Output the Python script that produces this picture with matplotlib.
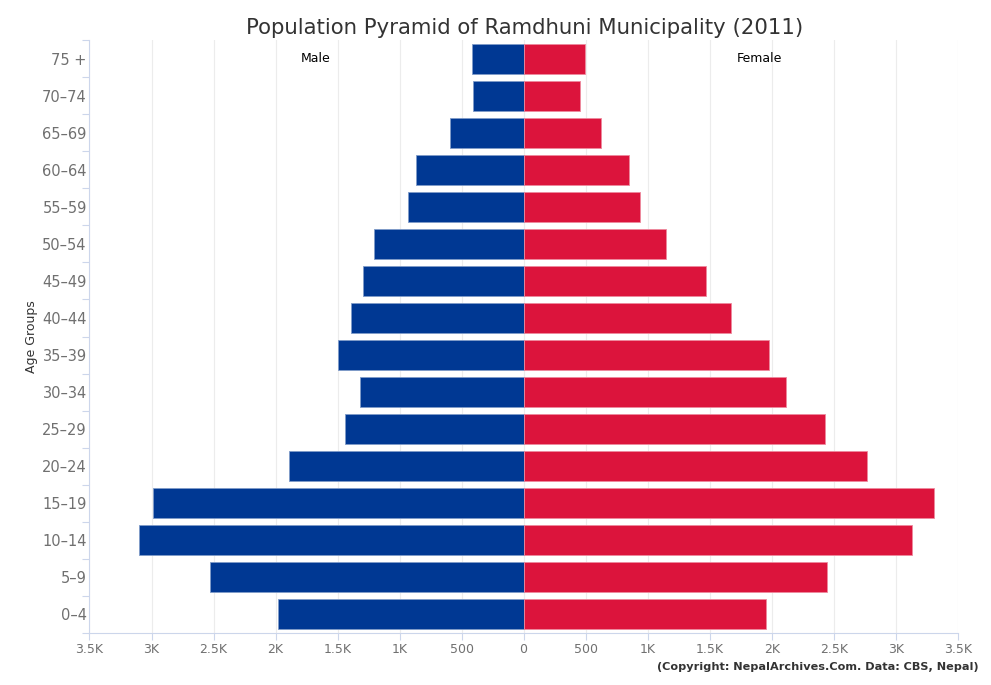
import matplotlib
matplotlib.use("Agg")
import matplotlib.pyplot as plt
import numpy as np

# --- data ---
age_groups = ["0–4", "5–9", "10–14", "15–19", "20–24", "25–29", "30–34", "35–39",
              "40–44", "45–49", "50–54", "55–59", "60–64", "65–69", "70–74", "75 +"]
male = [1978, 2528, 3097, 2985, 1892, 1441, 1323, 1497,
        1393, 1296, 1208, 928, 869, 596, 407, 419]
female = [1954, 2450, 3135, 3307, 2767, 2427, 2115, 1981,
          1670, 1469, 1147, 937, 849, 628, 453, 499]
x_ticks = [-3500, -3000, -2500, -2000, -1500, -1000, -500, 0,
           500, 1000, 1500, 2000, 2500, 3000, 3500]
x_tick_labels = ["3.5K", "3K", "2.5K", "2K", "1.5K", "1K", "500", "0",
                 "500", "1K", "1.5K", "2K", "2.5K", "3K", "3.5K"]

male_color = "#003893"
female_color = "#DC143C"

plt.rcParams['font.family'] = ['DejaVu Sans']

fig = plt.figure(figsize=(9.91, 6.85), dpi=100)
ax = fig.add_axes([0.0903, 0.0759, 0.8761, 0.8657])

y = np.arange(len(age_groups))
ax.barh(y, [-v for v in male], height=0.81, color=male_color,
        edgecolor="#7f9bc9", linewidth=0.6, zorder=3)
ax.barh(y, female, height=0.81, color=female_color,
        edgecolor="#ee8a9e", linewidth=0.6, zorder=3)

ax.set_xlim(-3500, 3500)
ax.set_ylim(-0.5, len(age_groups) - 0.5)

ax.set_xticks(x_ticks)
ax.set_xticklabels(x_tick_labels, color="#707070", fontsize=9)
ax.set_yticks(y)
ax.set_yticklabels(age_groups, color="#707070", fontsize=10.5)
ax.set_yticks(np.arange(-0.5, len(age_groups) - 0.4, 1), minor=True)

ax.tick_params(axis="y", which="major", length=0, pad=2)
ax.tick_params(axis="y", which="minor", length=5, color="#ccd6eb", width=0.8)
ax.tick_params(axis="x", length=5, color="#ccd6eb", width=0.8, pad=2)

ax.grid(axis="x", color="#ececec", linewidth=0.8, zorder=0)
for side in ["top", "right"]:
    ax.spines[side].set_visible(False)
ax.spines["left"].set_color("#ccd6eb")
ax.spines["bottom"].set_color("#ccd6eb")
ax.spines["left"].set_linewidth(0.8)
ax.spines["bottom"].set_linewidth(0.8)

ax.set_ylabel("Age Groups", fontsize=9, color="#333333", labelpad=3)

ax.text(-1680, 15, "Male", fontsize=9, color="black", ha="center", va="center")
ax.text(1900, 15, "Female", fontsize=9, color="black", ha="center", va="center")

fig.text(0.529, 0.959, "Population Pyramid of Ramdhuni Municipality (2011)",
         fontsize=15.3, color="#333333", ha="center", va="center")
fig.text(0.988, 0.027, "(Copyright: NepalArchives.Com. Data: CBS, Nepal)",
         fontsize=8.1, color="#333333", ha="right", va="center", fontweight="bold")

fig.savefig("out.png", dpi=100)
